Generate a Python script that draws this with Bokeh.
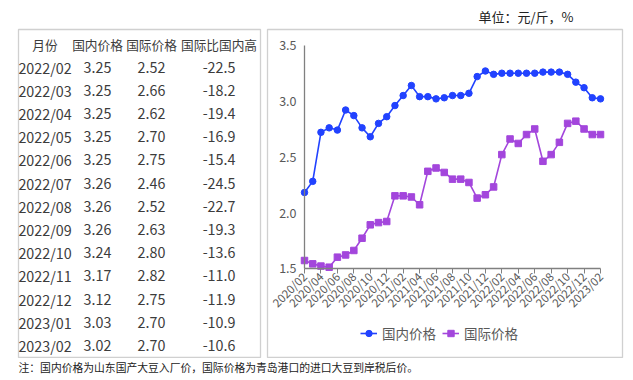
import math
from bokeh.plotting import figure
from bokeh.models import (ColumnDataSource, Range1d, FixedTicker, Legend, LegendItem,
                          NumeralTickFormatter)
from bokeh.layouts import row, column
from bokeh.embed import file_html
from bokeh.resources import INLINE
from bokeh.core.properties import value

FONT = "Noto Sans CJK SC"

# ---------------- data ----------------
months = ["2020/02", "2020/03", "2020/04", "2020/05", "2020/06", "2020/07", "2020/08",
          "2020/09", "2020/10", "2020/11", "2020/12", "2021/01", "2021/02", "2021/03",
          "2021/04", "2021/05", "2021/06", "2021/07", "2021/08", "2021/09", "2021/10",
          "2021/11", "2021/12", "2022/01", "2022/02", "2022/03", "2022/04", "2022/05",
          "2022/06", "2022/07", "2022/08", "2022/09", "2022/10", "2022/11", "2022/12",
          "2023/01", "2023/02"]
domestic = [2.18, 2.28, 2.72, 2.76, 2.74, 2.92, 2.87, 2.76, 2.68, 2.80, 2.86, 2.96,
            3.05, 3.14, 3.04, 3.04, 3.02, 3.03, 3.05, 3.05, 3.07, 3.22, 3.27, 3.24,
            3.25, 3.25, 3.25, 3.25, 3.25, 3.26, 3.26, 3.26, 3.24, 3.17, 3.12, 3.03, 3.02]
international = [1.57, 1.54, 1.52, 1.51, 1.60, 1.62, 1.66, 1.77, 1.89, 1.91, 1.92, 2.15,
                 2.15, 2.14, 2.07, 2.37, 2.40, 2.36, 2.30, 2.30, 2.27, 2.13, 2.16, 2.23,
                 2.52, 2.66, 2.62, 2.70, 2.75, 2.46, 2.52, 2.63, 2.80, 2.82, 2.75, 2.70, 2.70]
tick_labels = ["2020/02", "2020/04", "2020/06", "2020/08", "2020/10", "2020/12",
               "2021/02", "2021/04", "2021/06", "2021/08", "2021/10", "2021/12",
               "2022/02", "2022/04", "2022/06", "2022/08", "2022/10", "2022/12", "2023/02"]
y_ticks = [1.5, 2.0, 2.5, 3.0, 3.5]
series_names = ["国内价格", "国际价格"]

table_header = ["月份", "国内价格", "国际价格", "国际比国内高"]
table_months = ["2022/02", "2022/03", "2022/04", "2022/05", "2022/06", "2022/07", "2022/08",
                "2022/09", "2022/10", "2022/11", "2022/12", "2023/01", "2023/02"]
table_domestic = [3.25, 3.25, 3.25, 3.25, 3.25, 3.26, 3.26, 3.26, 3.24, 3.17, 3.12, 3.03, 3.02]
table_international = [2.52, 2.66, 2.62, 2.70, 2.75, 2.46, 2.52, 2.63, 2.80, 2.82, 2.75, 2.70, 2.70]
table_gap = [-22.5, -18.2, -19.4, -16.9, -15.4, -24.5, -22.7, -19.3, -13.6, -11.0, -11.9, -10.9, -10.6]

unit_text = "单位：元/斤，%"
note_text = "注：国内价格为山东国产大豆入厂价，国际价格为青岛港口的进口大豆到岸税后价。"

BLUE = "#2142FF"
PURPLE = "#A346DC"
GRAY_TXT = "#595959"
BORDER = "#d0d0d0"
TXT = "#3c3c3c"

H = 358          # height of the two panels' canvases
PANEL_TOP = 26   # frame top (panel box top)
PANEL_BOT = 357  # frame bottom (panel box bottom)

# ---------------- left: table ----------------
LW = 264
left = figure(width=LW, height=H, x_range=Range1d(18, 260), y_range=Range1d(PANEL_BOT, PANEL_TOP),
              output_backend="svg", toolbar_location=None,
              min_border_left=18, min_border_right=LW - 260, min_border_top=PANEL_TOP,
              min_border_bottom=H - PANEL_BOT, x_axis_location=None, y_axis_location=None)
left.grid.visible = False
left.outline_line_color = BORDER
left.outline_line_width = 1.3

col_x = [44.5, 97, 151, 218.5]
left.text(x=col_x, y=[41] * 4, text=table_header, text_font=value(FONT),
          text_font_size="12.7px", text_color=TXT, text_align="center", text_baseline="middle")
tx, ty, tt = [], [], []
for i in range(len(table_months)):
    yy = 64 + 23.4 * i
    cells = [table_months[i], "%.2f" % table_domestic[i], "%.2f" % table_international[i],
             "%.1f" % table_gap[i]]
    for cx, c in zip(col_x, cells):
        tx.append(cx); ty.append(yy); tt.append(c)
left.text(x=tx, y=ty, text=tt, text_font=value(FONT), text_font_size="14.3px",
          text_color=TXT, text_align="center", text_baseline="middle")

# ---------------- right: chart ----------------
RW = 633 - LW
FL, FR = 267, 622            # frame (panel box) left/right, page px
X0_PX, X1_PX = 304, 600      # first / last month position
Y35_PX, Y15_PX = 42, 267     # 3.5 / 1.5 position
pxm = (X1_PX - X0_PX) / 36.0
pxu = (Y15_PX - Y35_PX) / 2.0
x_rng = Range1d(0 - (X0_PX - FL) / pxm, 36 + (FR - X1_PX) / pxm)
y_rng = Range1d(1.5 - (PANEL_BOT - Y15_PX) / pxu, 3.5 + (Y35_PX - PANEL_TOP) / pxu)

p = figure(width=RW, height=H, x_range=x_rng, y_range=y_rng,
           output_backend="svg", toolbar_location=None, title=unit_text,
           min_border_left=FL - LW, min_border_right=633 - FR, min_border_top=PANEL_TOP,
           min_border_bottom=H - PANEL_BOT)
p.grid.visible = False
p.outline_line_color = BORDER
p.outline_line_width = 1.3

p.title.align = "left"
p.title.offset = 478 - FL
p.title.standoff = 8
p.title.text_font = FONT
p.title.text_font_size = "13px"
p.title.text_font_style = "normal"
p.title.text_color = "#222222"

x = list(range(len(months)))
src = ColumnDataSource(dict(x=x, dom=domestic, intl=international, m=months))
l1 = p.line("x", "dom", source=src, line_color=BLUE, line_width=1.6)
s1 = p.scatter("x", "dom", source=src, marker="circle", size=6.5, color=BLUE)
l2 = p.line("x", "intl", source=src, line_color=PURPLE, line_width=1.6)
s2 = p.scatter("x", "intl", source=src, marker="square", size=6.5, color=PURPLE)

xa = p.xaxis[0]
xa.fixed_location = 1.5
xa.bounds = (0, 36)
xa.ticker = FixedTicker(ticks=[months.index(t) for t in tick_labels])
xa.major_label_overrides = {months.index(t): t for t in tick_labels}
xa.major_label_orientation = math.pi / 4
xa.major_tick_in = 0
xa.major_tick_out = 5
xa.minor_tick_line_color = None
xa.axis_line_color = "#808080"
xa.axis_line_width = 1.3
xa.major_tick_line_color = "#808080"
xa.major_label_text_font = FONT
xa.major_label_text_font_size = "11.5px"
xa.major_label_text_color = GRAY_TXT
xa.major_label_standoff = 1

ya = p.yaxis[0]
ya.fixed_location = 0
ya.bounds = (1.5, 3.5)
ya.ticker = FixedTicker(ticks=y_ticks)
ya.formatter = NumeralTickFormatter(format="0.0")
ya.major_tick_line_color = None
ya.minor_tick_line_color = None
ya.major_tick_in = 0
ya.major_tick_out = 0
ya.major_label_standoff = 8
ya.axis_line_color = "#808080"
ya.axis_line_width = 1.3
ya.major_label_text_font = FONT
ya.major_label_text_font_size = "12.5px"
ya.major_label_text_color = GRAY_TXT

legend = Legend(items=[LegendItem(label=series_names[0], renderers=[l1, s1]),
                       LegendItem(label=series_names[1], renderers=[l2, s2])],
                location=(360 - FL, PANEL_BOT - 343), orientation="horizontal",
                padding=0, margin=0, spacing=6, label_standoff=5,
                glyph_width=17, glyph_height=16, label_height=16,
                label_text_font=FONT, label_text_font_size="13.5px",
                label_text_color=GRAY_TXT, border_line_color=None,
                background_fill_alpha=0)
p.add_layout(legend, "center")

# ---------------- footer ----------------
FW, FH = 633, 380 - H
foot = figure(width=FW, height=FH, x_range=Range1d(0, FW), y_range=Range1d(FH, 0),
              output_backend="svg", toolbar_location=None, min_border=0,
              x_axis_location=None, y_axis_location=None)
foot.grid.visible = False
foot.outline_line_color = None
foot.text(x=[18], y=[366 - H], text=[note_text], text_font=value(FONT), text_font_size="10.8px",
          text_color="#222222", text_align="left", text_baseline="middle")

layout = column(row(left, p), foot)
open("out.html", "w").write(file_html(layout, INLINE))
